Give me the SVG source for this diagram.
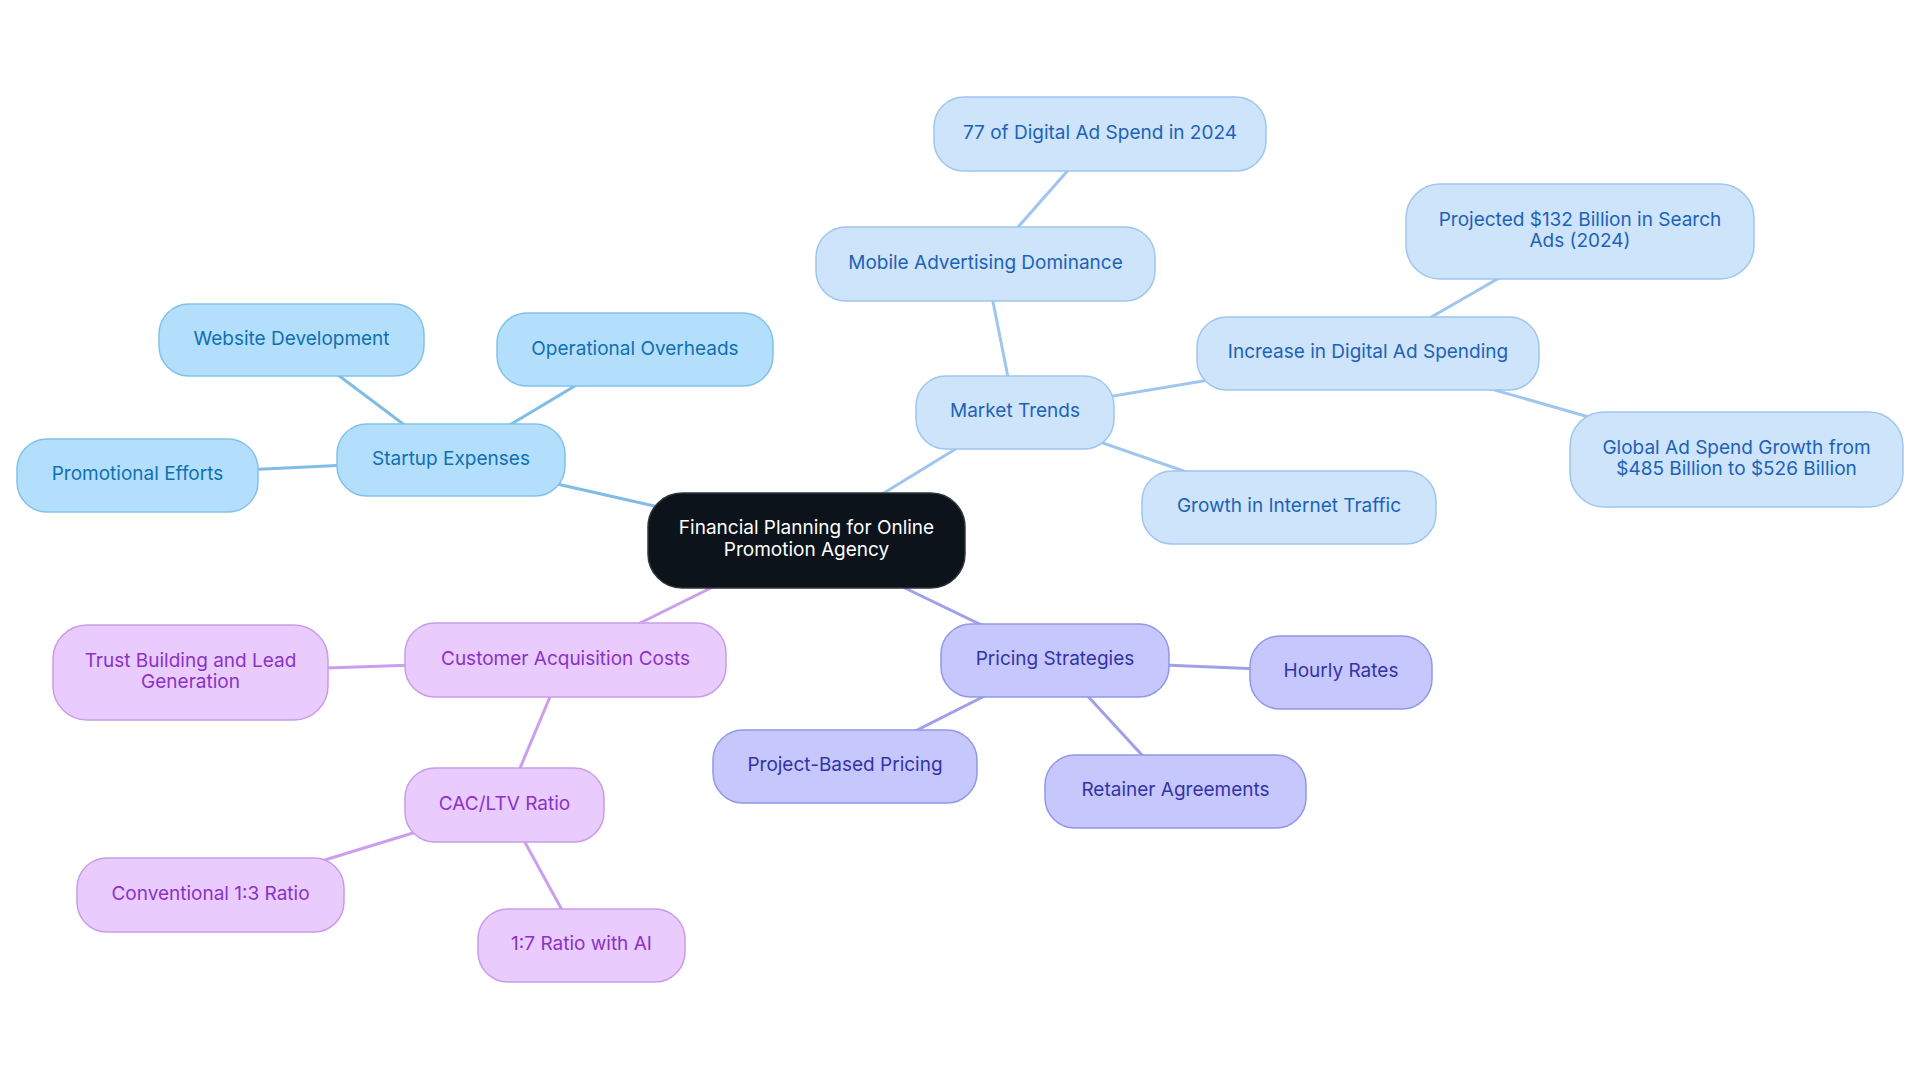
<svg xmlns="http://www.w3.org/2000/svg" width="1920" height="1083" viewBox="0 0 1920 1083">
<style>
text{font-family:Inter,"Noto Sans","Liberation Sans",sans-serif;font-size:19px;text-anchor:middle;dominant-baseline:central}
.n rect{stroke-width:1.5}
.b1 rect{fill:#b3dffc;stroke:#82c2ea}.b1 text{fill:#1170b0}
.b2 rect{fill:#cde4fb;stroke:#9fc6ee}.b2 text{fill:#1e62b8}
.b3 rect{fill:#c6c8fd;stroke:#9198e6}.b3 text{fill:#3433a6}
.b4 rect{fill:#e9cbfd;stroke:#c99ce9}.b4 text{fill:#8b32c6}
.c rect{fill:#0c131a;stroke:#30363d}.c text{fill:#ffffff}
#edges line{stroke-width:3;fill:none}
.l1{stroke:#7fbde6}.l2{stroke:#a0c6ee}.l3{stroke:#9ea1e8}.l4{stroke:#caa0ee}
</style>
<rect width="1920" height="1083" fill="#ffffff"/>
<g id="edges">
<line class="l1" x1="806.5" y1="540.5" x2="451" y2="460"/>
<line class="l1" x1="451" y1="460" x2="291.5" y2="340"/>
<line class="l1" x1="451" y1="460" x2="635" y2="350"/>
<line class="l1" x1="451" y1="460" x2="137.5" y2="475"/>
<line class="l2" x1="806.5" y1="540.5" x2="1015" y2="412.5"/>
<line class="l2" x1="1015" y1="412.5" x2="985.5" y2="264"/>
<line class="l2" x1="985.5" y1="264" x2="1100" y2="134"/>
<line class="l2" x1="1015" y1="412.5" x2="1368" y2="353.5"/>
<line class="l2" x1="1368" y1="353.5" x2="1580" y2="231.5"/>
<line class="l2" x1="1368" y1="353.5" x2="1736.5" y2="459.5"/>
<line class="l2" x1="1015" y1="412.5" x2="1289" y2="507.5"/>
<line class="l3" x1="806.5" y1="540.5" x2="1055" y2="660.5"/>
<line class="l3" x1="1055" y1="660.5" x2="1341" y2="672.5"/>
<line class="l3" x1="1055" y1="660.5" x2="845" y2="766.5"/>
<line class="l3" x1="1055" y1="660.5" x2="1175.5" y2="791.5"/>
<line class="l4" x1="806.5" y1="540.5" x2="565.5" y2="660"/>
<line class="l4" x1="565.5" y1="660" x2="190.5" y2="672.5"/>
<line class="l4" x1="565.5" y1="660" x2="504.5" y2="805"/>
<line class="l4" x1="504.5" y1="805" x2="210.5" y2="895"/>
<line class="l4" x1="504.5" y1="805" x2="581.5" y2="945.5"/>
</g>
<g id="center" class="n c"><rect x="648" y="493" width="317" height="95" rx="34"/><text x="806.5" y="527.5">Financial Planning for Online</text><text x="806.5" y="549.5">Promotion Agency</text></g>
<g id="startup" class="n b1"><rect x="337" y="424" width="228" height="72" rx="30"/><text x="451" y="458.5">Startup Expenses</text></g>
<g id="website" class="n b1"><rect x="159" y="304" width="265" height="72" rx="30"/><text x="291.5" y="338.5">Website Development</text></g>
<g id="operational" class="n b1"><rect x="497" y="313" width="276" height="73" rx="30"/><text x="635" y="348">Operational Overheads</text></g>
<g id="promotional" class="n b1"><rect x="17" y="439" width="241" height="73" rx="30"/><text x="137.5" y="473.5">Promotional Efforts</text></g>
<g id="market" class="n b2"><rect x="916" y="376" width="198" height="73" rx="30"/><text x="1015" y="410.5">Market Trends</text></g>
<g id="mobile" class="n b2"><rect x="816" y="227" width="339" height="74" rx="30"/><text x="985.5" y="262">Mobile Advertising Dominance</text></g>
<g id="spend77" class="n b2"><rect x="934" y="97" width="332" height="74" rx="30"/><text x="1100" y="132">77 of Digital Ad Spend in 2024</text></g>
<g id="increase" class="n b2"><rect x="1197" y="317" width="342" height="73" rx="30"/><text x="1368" y="351.5">Increase in Digital Ad Spending</text></g>
<g id="projected" class="n b2"><rect x="1406" y="184" width="348" height="95" rx="34"/><text x="1580" y="219.5">Projected $132 Billion in Search</text><text x="1580" y="240.5">Ads (2024)</text></g>
<g id="global" class="n b2"><rect x="1570" y="412" width="333" height="95" rx="34"/><text x="1736.5" y="447.5">Global Ad Spend Growth from</text><text x="1736.5" y="468.5">$485 Billion to $526 Billion</text></g>
<g id="growth" class="n b2"><rect x="1142" y="471" width="294" height="73" rx="30"/><text x="1289" y="505.5">Growth in Internet Traffic</text></g>
<g id="pricing" class="n b3"><rect x="941" y="624" width="228" height="73" rx="30"/><text x="1055" y="658.5">Pricing Strategies</text></g>
<g id="hourly" class="n b3"><rect x="1250" y="636" width="182" height="73" rx="30"/><text x="1341" y="670.5">Hourly Rates</text></g>
<g id="project" class="n b3"><rect x="713" y="730" width="264" height="73" rx="30"/><text x="845" y="764.5">Project-Based Pricing</text></g>
<g id="retainer" class="n b3"><rect x="1045" y="755" width="261" height="73" rx="30"/><text x="1175.5" y="789.5">Retainer Agreements</text></g>
<g id="cac" class="n b4"><rect x="405" y="623" width="321" height="74" rx="30"/><text x="565.5" y="658">Customer Acquisition Costs</text></g>
<g id="trust" class="n b4"><rect x="53" y="625" width="275" height="95" rx="34"/><text x="190.5" y="660.5">Trust Building and Lead</text><text x="190.5" y="681.5">Generation</text></g>
<g id="cacltv" class="n b4"><rect x="405" y="768" width="199" height="74" rx="30"/><text x="504.5" y="803">CAC/LTV Ratio</text></g>
<g id="conventional" class="n b4"><rect x="77" y="858" width="267" height="74" rx="30"/><text x="210.5" y="893">Conventional 1:3 Ratio</text></g>
<g id="ai" class="n b4"><rect x="478" y="909" width="207" height="73" rx="30"/><text x="581.5" y="943.5">1:7 Ratio with AI</text></g>
</svg>
